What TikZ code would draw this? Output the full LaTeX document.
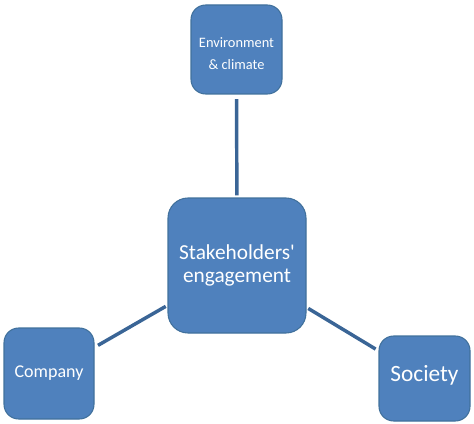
\documentclass[tikz,border=0pt]{standalone}
\usepackage{fontspec}
\setmainfont{Carlito}
\definecolor{boxfill}{HTML}{4F81BD}
\definecolor{boxline}{HTML}{41719C}
\definecolor{linkcol}{HTML}{3A6596}
\begin{document}
\begin{tikzpicture}[x=0.75pt,y=-0.75pt,
  box/.style={draw=boxline, line width=0.8pt, fill=boxfill, text=white, rounded corners=11pt, align=center, inner sep=0pt},
  link/.style={draw=linkcol, line width=2.6pt}]
\useasboundingbox (0,0) rectangle (474,424);
\node[box, minimum width=68.25pt, minimum height=66.75pt, font=\fontsize{10.8}{16.5}\selectfont] (env) at (236.5,49.5) {\raisebox{-3.5pt}[\height][\depth]{\begin{tabular}{@{}c@{}}Environment\\[0.5pt] \& climate\end{tabular}}};
\node[box, minimum width=103.5pt, minimum height=101.25pt, rounded corners=15pt, font=\fontsize{16}{17.5}\selectfont] (center) at (237,265.5) {Stakeholders\textquotesingle\\engagement};
\node[box, minimum width=67.5pt, minimum height=68.25pt, font=\fontsize{13.5}{16}\selectfont] (company) at (49,373.5) {Company};
\node[box, minimum width=68.25pt, minimum height=63.75pt, font=\fontsize{17.5}{20}\selectfont] (society) at (424.5,378.5) {\raisebox{2.5pt}[\height][\depth]{Society}};
\draw[link, shorten <=3.5pt, shorten >=1.5pt] (env) -- (center);
\draw[link, shorten <=3pt, shorten >=1.5pt] (company) -- (center);
\draw[link, shorten <=2.5pt, shorten >=1.5pt] (society) -- (center);
\end{tikzpicture}
\end{document}
